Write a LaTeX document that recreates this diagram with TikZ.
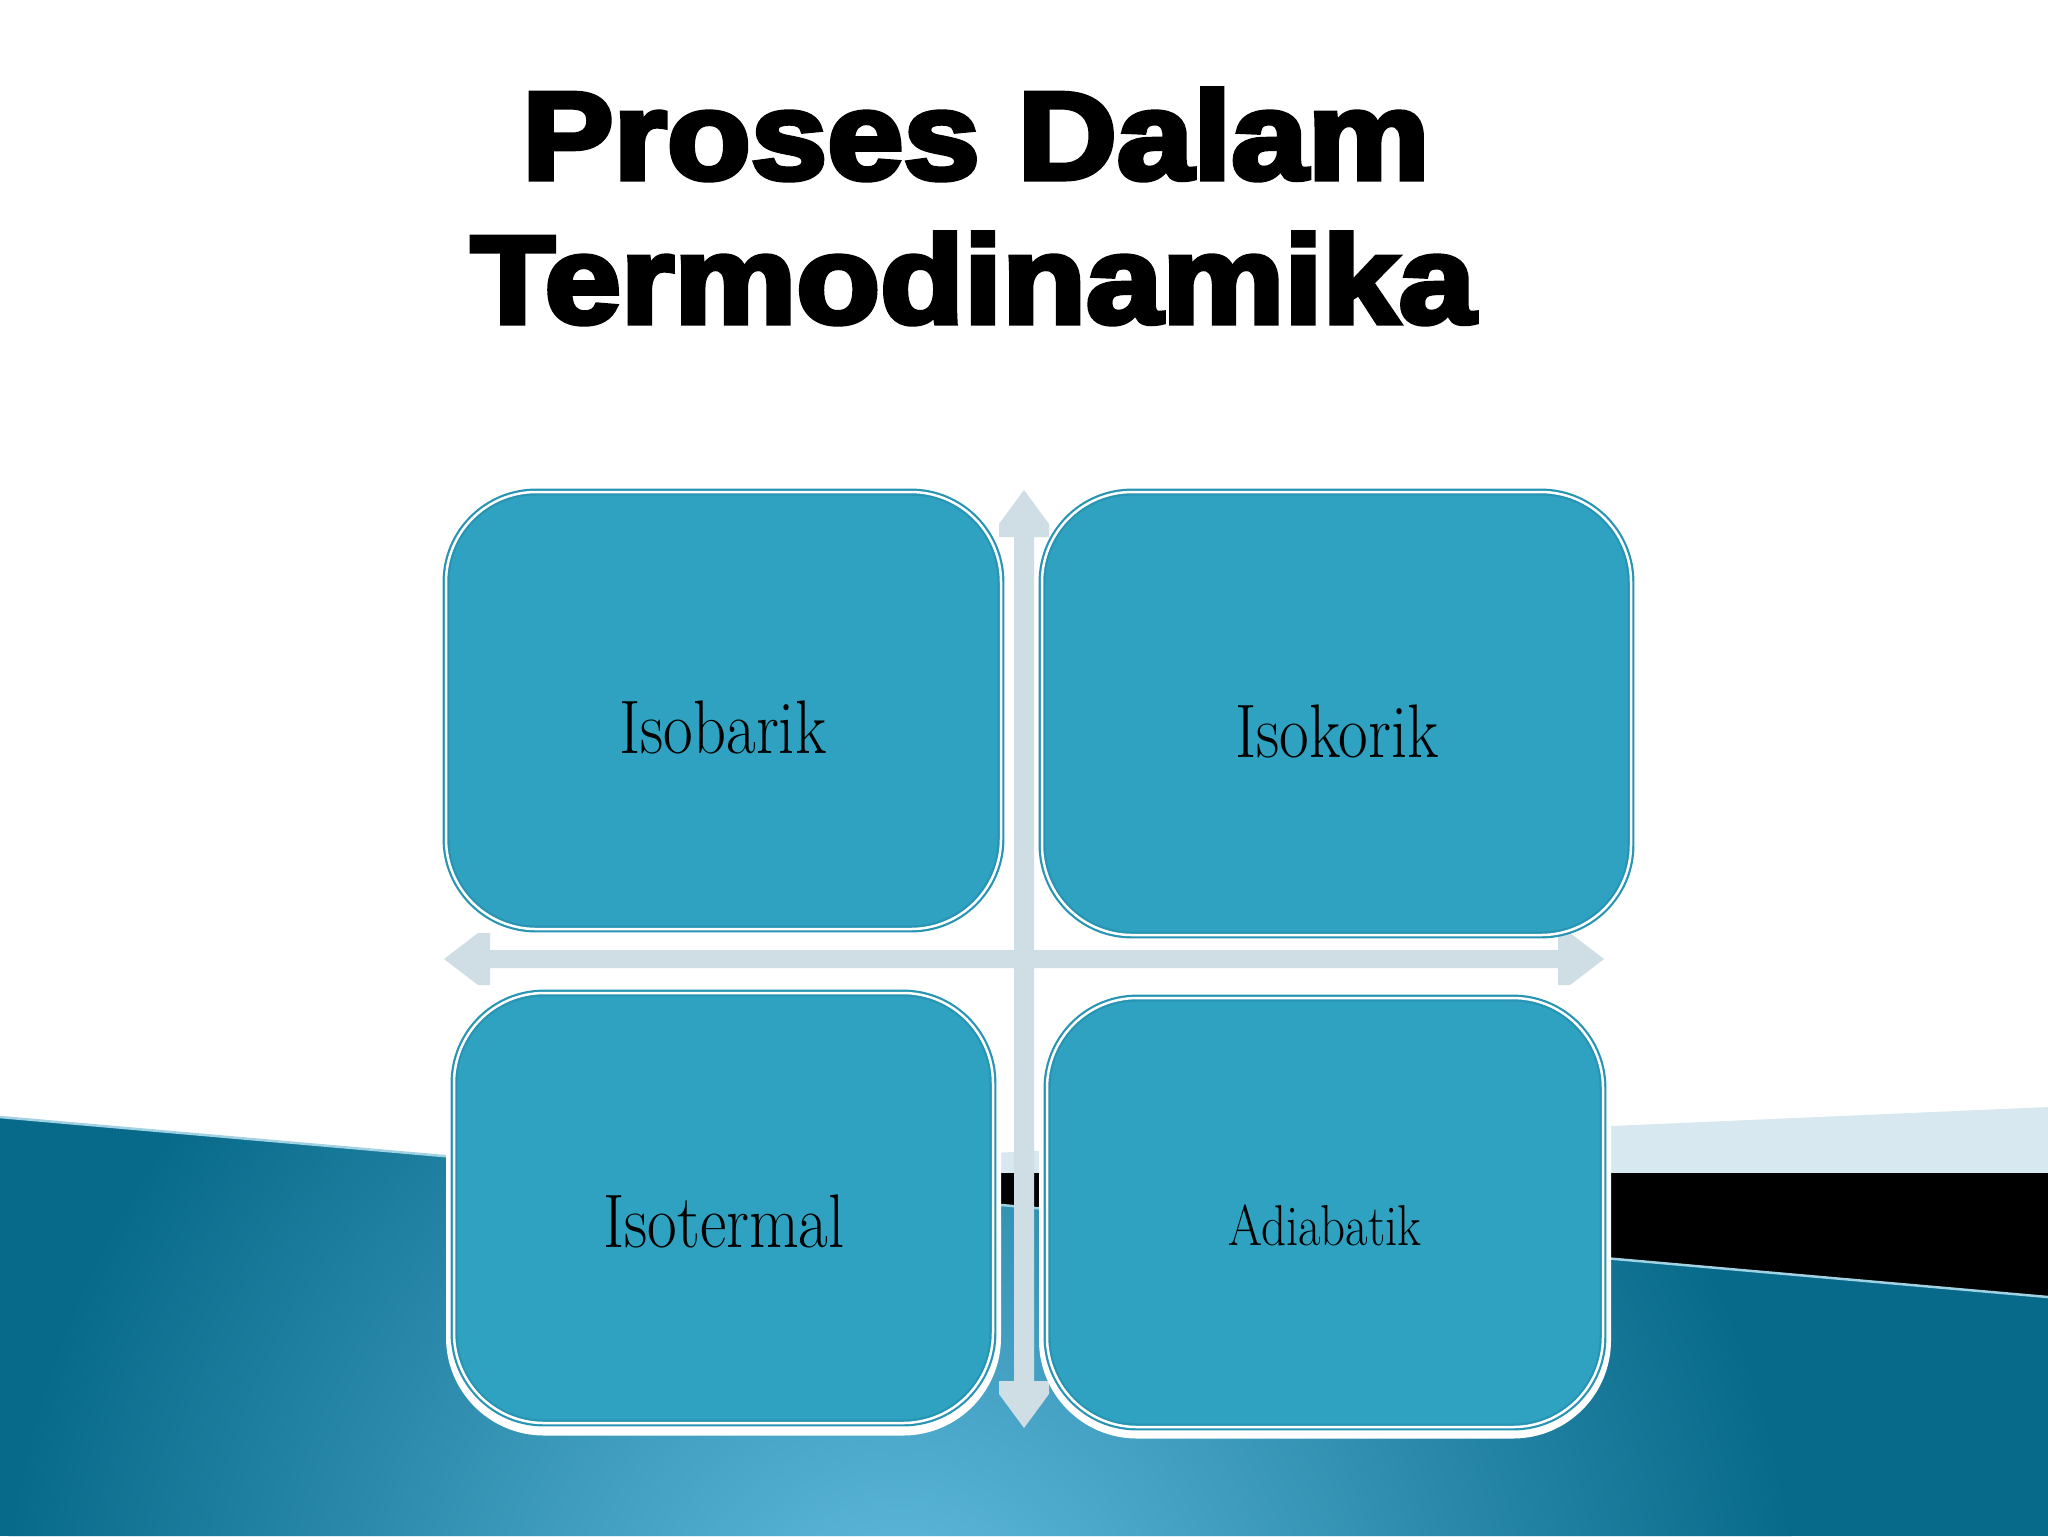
\documentclass[tikz,border=0pt]{standalone}
\usepackage{fontspec}
\newfontfamily\titlefont[BoldFeatures={FakeBold=4}]{Liberation Sans}
\definecolor{boxteal}{RGB}{46,162,192}
\definecolor{edgeteal}{RGB}{38,148,178}
\definecolor{arrowc}{RGB}{206,222,228}
\definecolor{lightband}{RGB}{216,232,240}
\definecolor{darkteal}{RGB}{8,106,138}
\definecolor{lightteal}{RGB}{100,190,225}
\definecolor{edgeline}{RGB}{160,210,228}
\tikzset{
  titlestyle/.style={font=\titlefont\bfseries\fontsize{35.5}{42}\selectfont, inner sep=0pt},
  procbox/.style={draw=edgeteal, line width=0.22mm, double=white, double distance=0.25mm,
    fill=boxteal, rounded corners=9mm, inner sep=0pt},
  halo/.style={fill=white, rounded corners=9.8mm, inner sep=0pt},
  bigtext/.style={font=\fontsize{21.6}{26}\selectfont, inner sep=0pt, anchor=base},
  smalltext/.style={font=\fontsize{16.4}{20}\selectfont, inner sep=0pt, anchor=base},
}
\begin{document}
\begin{tikzpicture}[x=0.1mm,y=-0.1mm]
\useasboundingbox (0,0) rectangle (2048,1536);
\fill[white] (0,0) rectangle (2048,1536);
% background bands
\fill[lightband] (0,1196) -- (2048,1107) -- (2048,1536) -- (0,1536) -- cycle;
\fill[black] (0,1173) -- (2048,1173) -- (2048,1536) -- (0,1536) -- cycle;
\begin{scope}
  \clip (0,1117) -- (2048,1297) -- (2048,1536) -- (0,1536) -- cycle;
  \fill[darkteal] (0,1100) rectangle (2048,1536);
  \shade[inner color=lightteal, outer color=darkteal] (900,1660) circle (900);
\end{scope}
\draw[edgeline, line width=0.25mm] (0,1117) -- (2048,1297);
% title
\node[titlestyle, anchor=base] (title1) at (976,179) {\scalebox{1.1}[1]{Proses Dalam}};
\node[titlestyle, anchor=base] (title2) at (973,323) {\scalebox{1.1}[1]{Termodinamika}};
% arrows
\fill[arrowc] (1024,490) -- (1049,524) -- (1049,537) -- (1034,537) -- (1034,1381)
  -- (1049,1381) -- (1049,1394) -- (1024,1428) -- (999,1394) -- (999,1381)
  -- (1014,1381) -- (1014,537) -- (999,537) -- (999,524) -- cycle;
\fill[arrowc] (444,959) -- (478,933) -- (490,933) -- (490,950) -- (1558,950)
  -- (1558,933) -- (1570,933) -- (1604,959) -- (1570,985) -- (1558,985)
  -- (1558,968) -- (490,968) -- (490,985) -- (478,985) -- cycle;
% halos
\node[halo, minimum width=55.5mm, minimum height=44.5mm] (h3) at (723.5,1213) {};
\node[halo, minimum width=57.2mm, minimum height=44.5mm] (h4) at (1325,1216) {};
% boxes
\node[procbox, minimum width=55.5mm, minimum height=43.7mm] (b1) at (723.5,710.5) {};
\node[procbox, minimum width=58.9mm, minimum height=44.3mm] (b2) at (1336.5,713.5) {};
\node[procbox, minimum width=53.9mm, minimum height=43.0mm] (b3) at (723.5,1208) {};
\node[procbox, minimum width=55.6mm, minimum height=42.9mm] (b4) at (1325,1212.5) {};
% labels
\node[bigtext] (t1) at (723,753) {\scalebox{0.85}[1]{Isobarik}};
\node[bigtext] (t2) at (1337,757) {\scalebox{0.85}[1]{Isokorik}};
\node[bigtext] (t3) at (724,1247) {\scalebox{0.85}[1]{Isotermal}};
\node[smalltext] (t4) at (1325,1245) {\scalebox{0.85}[1]{Adiabatik}};
\end{tikzpicture}
\end{document}
